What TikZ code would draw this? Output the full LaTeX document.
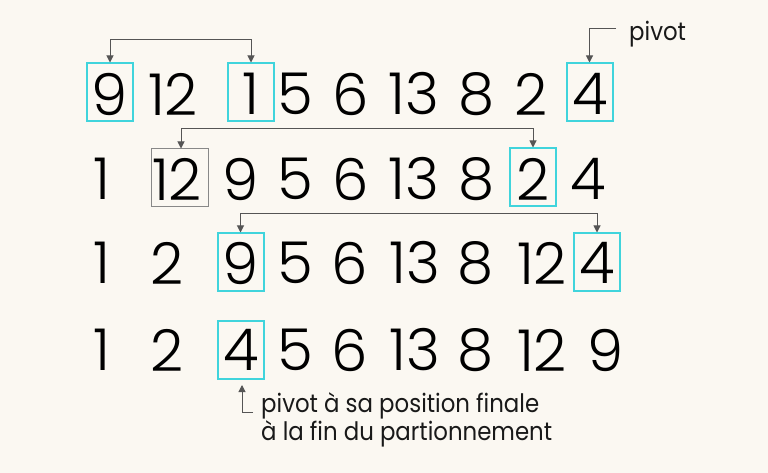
\documentclass[tikz,border=0pt]{standalone}
\usepackage{fontspec}
\setmainfont{Poppins}[UprightFont={* Light}]
\newfontfamily\labfont{Poppins}[FakeStretch=0.9]
\usetikzlibrary{arrows.meta,calc}
\definecolor{bg}{HTML}{FBF8F2}
\definecolor{cy}{HTML}{40D4DC}
\definecolor{ln}{HTML}{555555}
\definecolor{gb}{HTML}{888888}
\tikzset{
  num/.style={inner sep=0pt, font=\fontsize{58}{60}\selectfont},
  cbox/.style={draw=cy, line width=2bp, minimum width=46bp, minimum height=58bp, inner sep=0pt},
  gbox/.style={draw=gb, line width=1bp, minimum width=57bp, minimum height=58bp, inner sep=0pt},
  conn/.style={draw=ln, line width=1bp, {Triangle[length=7bp,width=7bp]}-{Triangle[length=7bp,width=7bp]}},
  conn1/.style={draw=ln, line width=1bp, -{Triangle[length=7bp,width=7bp]}},
  lab/.style={inner sep=0pt, font=\labfont\fontsize{25.5}{28}\selectfont, anchor=base west, text=black!90}
}
\begin{document}
\begin{tikzpicture}[x=1bp,y=-1bp]
\fill[bg] (0,0) rectangle (768,473);
\useasboundingbox (0,0) rectangle (768,473);
% boxes
\node[cbox] (b11) at (110,92.5) {};
\node[cbox] (b12) at (251,92.5) {};
\node[cbox] (b13) at (589.5,92.5) {};
\node[gbox] (b21) at (179.5,178) {};
\node[cbox] (b22) at (533,177.5) {};
\node[cbox] (b31) at (240.5,262.5) {};
\node[cbox] (b32) at (597,262.5) {};
\node[cbox] (b41) at (240.5,350) {};
% row 1
\node[num] (a1) at (110,94) {9};
\node[num] (a2) at (173,94) {12};
\node[num] (a3) at (251,94) {1};
\node[num] (a4) at (295,94) {5};
\node[num] (a5) at (351,94) {6};
\node[num] (a6) at (414,94) {13};
\node[num] (a7) at (477,94) {8};
\node[num] (a8) at (531,94) {2};
\node[num] (a9) at (590,94) {4};
% row 2
\node[num] (c1) at (102,179) {1};
\node[num] (c2) at (177,179) {12};
\node[num] (c3) at (241,179) {9};
\node[num] (c4) at (295,179) {5};
\node[num] (c5) at (351,179) {6};
\node[num] (c6) at (414,179) {13};
\node[num] (c7) at (477,179) {8};
\node[num] (c8) at (533,179) {2};
\node[num] (c9) at (588,179) {4};
% row 3
\node[num] (d1) at (102,263) {1};
\node[num] (d2) at (167,263) {2};
\node[num] (d3) at (241,263) {9};
\node[num] (d4) at (295,263) {5};
\node[num] (d5) at (350,263) {6};
\node[num] (d6) at (415,263) {13};
\node[num] (d7) at (476,263) {8};
\node[num] (d8) at (542,263) {12};
\node[num] (d9) at (597,263) {4};
% row 4
\node[num] (e1) at (102,350) {1};
\node[num] (e2) at (167,350) {2};
\node[num] (e3) at (241,350) {4};
\node[num] (e4) at (295,350) {5};
\node[num] (e5) at (350,350) {6};
\node[num] (e6) at (415,350) {13};
\node[num] (e7) at (476,350) {8};
\node[num] (e8) at (542,350) {12};
\node[num] (e9) at (606,350) {9};
% labels
\node[lab] (pv) at (629,41) {pivot};
\node[lab] (t1) at (261,412) {pivot à sa position finale};
\node[lab] (t2) at (261,440) {à la fin du partionnement};
% connectors
\draw[conn] (b11.north) -- ++(0,-23) -| (b12.north);
\draw[conn] ($(b21.north)+(1.5,0)$) -- ++(0,-20) -| (b22.north);
\draw[conn] (b31.north) -- ++(0,-19) -| (b32.north);
\coordinate (pvs) at ($(pv.west)+(-13,-6)$);
\draw[conn1] (pvs) -| (b13.north);
\coordinate (t1s) at ($(t1.base west)+(-8,0)$);
\draw[conn1] (t1s) -| ($(b41.south)+(1.5,5)$);
\end{tikzpicture}
\end{document}
